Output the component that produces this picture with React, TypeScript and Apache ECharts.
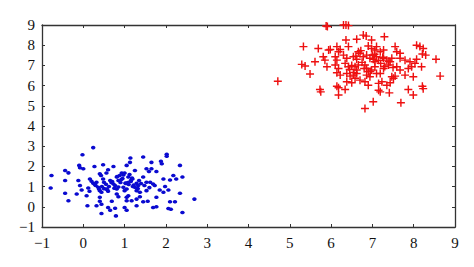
import React, { useEffect, useRef } from "react";
import * as echarts from "echarts";

const xTicks = [-1, 0, 1, 2, 3, 4, 5, 6, 7, 8, 9];
const yTicks = [-1, 0, 1, 2, 3, 4, 5, 6, 7, 8, 9];

const blueX = [0.24, -0.02, 2.02, 2.02, 1.14, 1.45, 1.13, 1.65, 1.88, 1.9, 2.34, -0.1, -0.08, 0.0, 0.27, 0.48, 0.73, -0.44, -0.36, -0.77, 0.4, 0.43, 0.6, 0.56, 0.93, 0.97, 1.0, 1.25, 1.05, 1.53, 1.65, 1.77, 1.59, 2.18, 2.4, 2.25, 2.1, 1.94, -0.44, -0.12, 0.16, 0.2, 0.24, 0.32, 0.48, 0.5, 0.65, 0.73, 0.81, 0.85, 1.09, 1.15, 1.19, 1.29, 1.33, 1.45, 1.53, 1.69, 1.73, 1.98, -0.79, -0.08, -0.04, 0.12, 0.15, 0.36, 0.4, 0.44, 0.56, 0.6, 0.77, 0.81, 0.97, 1.0, 1.05, 1.25, 1.29, 1.37, 1.53, 1.85, 1.94, 2.06, -0.44, -0.16, 0.08, 0.4, 0.81, 0.85, 1.05, 1.09, 1.37, 1.77, 2.34, -0.36, 0.4, 0.44, 0.69, 1.05, 1.17, 1.29, 1.45, 1.56, 2.69, 2.1, 2.22, 0.1, 0.32, 0.6, 0.65, 0.77, 1.0, 1.05, 1.29, 1.69, 1.77, 2.06, 2.12, 0.44, 0.79, 2.4, 0.9, 1.1, 0.7, 1.2, 0.95, 0.55, 1.4, 0.3, 1.6, 0.85, 1.15, 0.62, 1.02, 0.88, 1.22, 0.5, 1.35, 0.75, 1.08, 0.28, 0.45, 0.68, 1.12, 1.32, 0.92, 1.48, 0.58, 1.18, 0.82, 1.62, 0.38, 1.03];
const blueY = [2.93, 2.58, 2.6, 2.5, 2.42, 2.47, 2.2, 2.2, 2.25, 2.13, 2.05, 2.05, 1.93, 1.88, 2.0, 2.08, 2.0, 1.8, 1.68, 1.55, 1.63, 1.55, 1.83, 1.67, 1.67, 1.58, 1.67, 1.8, 2.05, 1.88, 1.88, 1.75, 1.75, 1.55, 1.47, 1.38, 1.33, 1.38, 1.3, 1.3, 1.38, 1.27, 1.17, 1.22, 1.38, 1.22, 1.3, 1.13, 1.47, 1.3, 1.47, 1.3, 1.38, 1.17, 1.05, 1.47, 1.22, 1.13, 1.05, 1.0, 0.93, 1.05, 0.83, 0.93, 0.77, 0.97, 0.8, 0.72, 0.88, 0.77, 1.05, 0.88, 0.97, 0.8, 0.88, 0.97, 0.8, 0.72, 0.8, 0.83, 0.72, 0.83, 0.67, 0.63, 0.55, 0.47, 0.63, 0.5, 0.47, 0.55, 0.5, 0.47, 0.67, 0.3, 0.27, 0.13, 0.27, 0.3, 0.3, 0.38, 0.25, 0.27, 0.38, 0.25, 0.25, 0.05, 0.05, -0.03, -0.17, -0.07, -0.03, -0.17, 0.05, -0.03, 0.0, -0.08, -0.12, -0.33, -0.45, -0.28, 1.2, 1.1, 1.25, 1.0, 1.4, 1.12, 1.15, 1.05, 0.95, 0.98, 1.25, 1.0, 1.18, 1.55, 1.08, 0.9, 1.3, 0.92, 1.2, 1.1, 1.0, 1.2, 1.6, 0.9, 1.35, 1.05, 0.85, 1.42, 1.5, 1.22, 0.88, 1.15];

const redX = [5.88, 5.91, 6.3, 6.36, 6.42, 6.78, 6.85, 7.29, 6.36, 6.98, 6.62, 5.33, 5.69, 5.94, 5.98, 6.14, 6.22, 6.18, 6.42, 6.66, 6.72, 6.9, 6.98, 7.06, 7.1, 7.19, 7.27, 7.55, 7.59, 7.67, 8.07, 8.15, 8.23, 8.21, 8.29, 8.54, 5.81, 5.85, 6.1, 6.14, 6.3, 6.38, 6.54, 6.62, 6.78, 6.86, 6.94, 7.02, 7.06, 7.1, 7.27, 7.35, 7.43, 7.47, 7.67, 7.79, 7.91, 8.03, 8.07, 5.29, 5.37, 5.61, 5.9, 6.1, 6.18, 6.34, 6.42, 6.58, 6.62, 6.66, 6.82, 6.86, 6.98, 7.06, 7.27, 7.39, 7.59, 7.67, 7.87, 7.95, 8.19, 5.49, 6.14, 6.22, 6.38, 6.46, 6.54, 6.58, 6.62, 6.86, 6.94, 7.19, 7.47, 7.51, 7.55, 7.79, 7.99, 8.64, 4.71, 6.38, 6.5, 6.7, 6.82, 6.9, 7.15, 7.23, 7.35, 7.43, 6.14, 6.18, 6.34, 5.73, 5.75, 7.15, 7.19, 7.41, 7.87, 8.21, 8.23, 7.99, 6.18, 7.02, 7.69, 6.82, 6.7, 7.0, 7.2, 6.5, 6.9, 7.4, 7.1, 6.6, 6.8, 7.3, 7.05, 6.45, 6.75, 7.15, 6.95, 7.25, 6.55, 7.5];
const redY = [8.95, 8.92, 9.0, 9.0, 8.97, 8.5, 8.45, 8.42, 8.26, 8.26, 8.29, 7.93, 7.84, 7.76, 7.79, 7.93, 7.79, 7.68, 7.93, 7.68, 7.73, 7.96, 7.84, 7.76, 7.93, 7.68, 7.76, 7.93, 7.68, 7.6, 8.0, 7.93, 7.84, 7.56, 7.51, 7.3, 7.43, 7.26, 7.43, 7.26, 7.51, 7.35, 7.43, 7.3, 7.43, 7.51, 7.35, 7.3, 7.18, 7.43, 7.35, 7.26, 7.18, 7.35, 7.35, 7.26, 7.18, 7.1, 7.3, 7.05, 6.97, 7.18, 6.93, 7.02, 6.85, 7.1, 6.93, 6.93, 6.77, 7.02, 7.02, 6.85, 6.77, 6.93, 6.85, 7.02, 6.93, 6.77, 6.85, 6.93, 6.93, 6.57, 6.64, 6.52, 6.6, 6.47, 6.52, 6.36, 6.6, 6.52, 6.44, 6.6, 6.44, 6.36, 6.47, 6.52, 6.44, 6.47, 6.22, 6.19, 6.14, 6.27, 6.19, 6.02, 6.11, 6.19, 6.02, 6.14, 5.97, 5.89, 5.81, 5.81, 5.69, 5.77, 5.69, 5.64, 5.81, 5.97, 5.85, 5.53, 5.53, 5.2, 5.15, 4.87, 7.6, 7.5, 7.1, 7.0, 6.7, 7.2, 6.6, 7.45, 6.85, 6.95, 7.55, 6.8, 7.15, 7.25, 6.7, 7.4, 6.65, 6.9, 7.05];

const bluePts = blueX.map((x, i) => [x, blueY[i]]);
const redPts = redX.map((x, i) => [x, redY[i]]);

const PLUS = "path://M4.1,0H5.9V4.1H10V5.9H5.9V10H4.1V5.9H0V4.1H4.1Z";
const fmt = (v: number) => String(v).replace("-", "\u2212");
const font = "Liberation Serif";

function mkAxis(position: string, showLabel: boolean, margin: number) {
  return {
    type: "value",
    position,
    min: -1,
    max: 9,
    interval: 1,
    splitLine: { show: false },
    axisLine: { show: true, onZero: false, lineStyle: { color: "#333", width: 1.3 } },
    axisTick: { show: true, inside: true, length: 3, lineStyle: { color: "#333", width: 1 } },
    axisLabel: {
      show: showLabel,
      color: "#111",
      fontFamily: font,
      fontSize: 15,
      margin,
      formatter: fmt,
    },
  };
}

export default function App() {
  const ref = useRef<HTMLDivElement>(null);
  useEffect(() => {
    const chart = echarts.init(ref.current!, null, { renderer: "svg" });
    chart.setOption({
      animation: false,
      backgroundColor: "#fff",
      textStyle: { fontFamily: font, fontSize: 15, color: "#111" },
      grid: { left: 42, top: 25, right: 19, bottom: 40, containLabel: false },
      xAxis: [mkAxis("bottom", true, 8), mkAxis("top", false, 8)],
      yAxis: [mkAxis("left", true, 7), mkAxis("right", false, 7)],
      series: [
        {
          type: "scatter",
          data: bluePts,
          symbol: "circle",
          symbolSize: [4.5, 3.5],
          itemStyle: { color: "#0a0ad0", opacity: 1 },
        },
        {
          type: "scatter",
          data: redPts,
          symbol: PLUS,
          symbolSize: 8,
          itemStyle: { color: "#ee1111", opacity: 1 },
        },
      ],
    });
    return () => chart.dispose();
  }, []);
  return (
    <div
      ref={ref}
      style={{ position: "absolute", left: 0, top: 0, width: 474, height: 267 }}
    />
  );
}
